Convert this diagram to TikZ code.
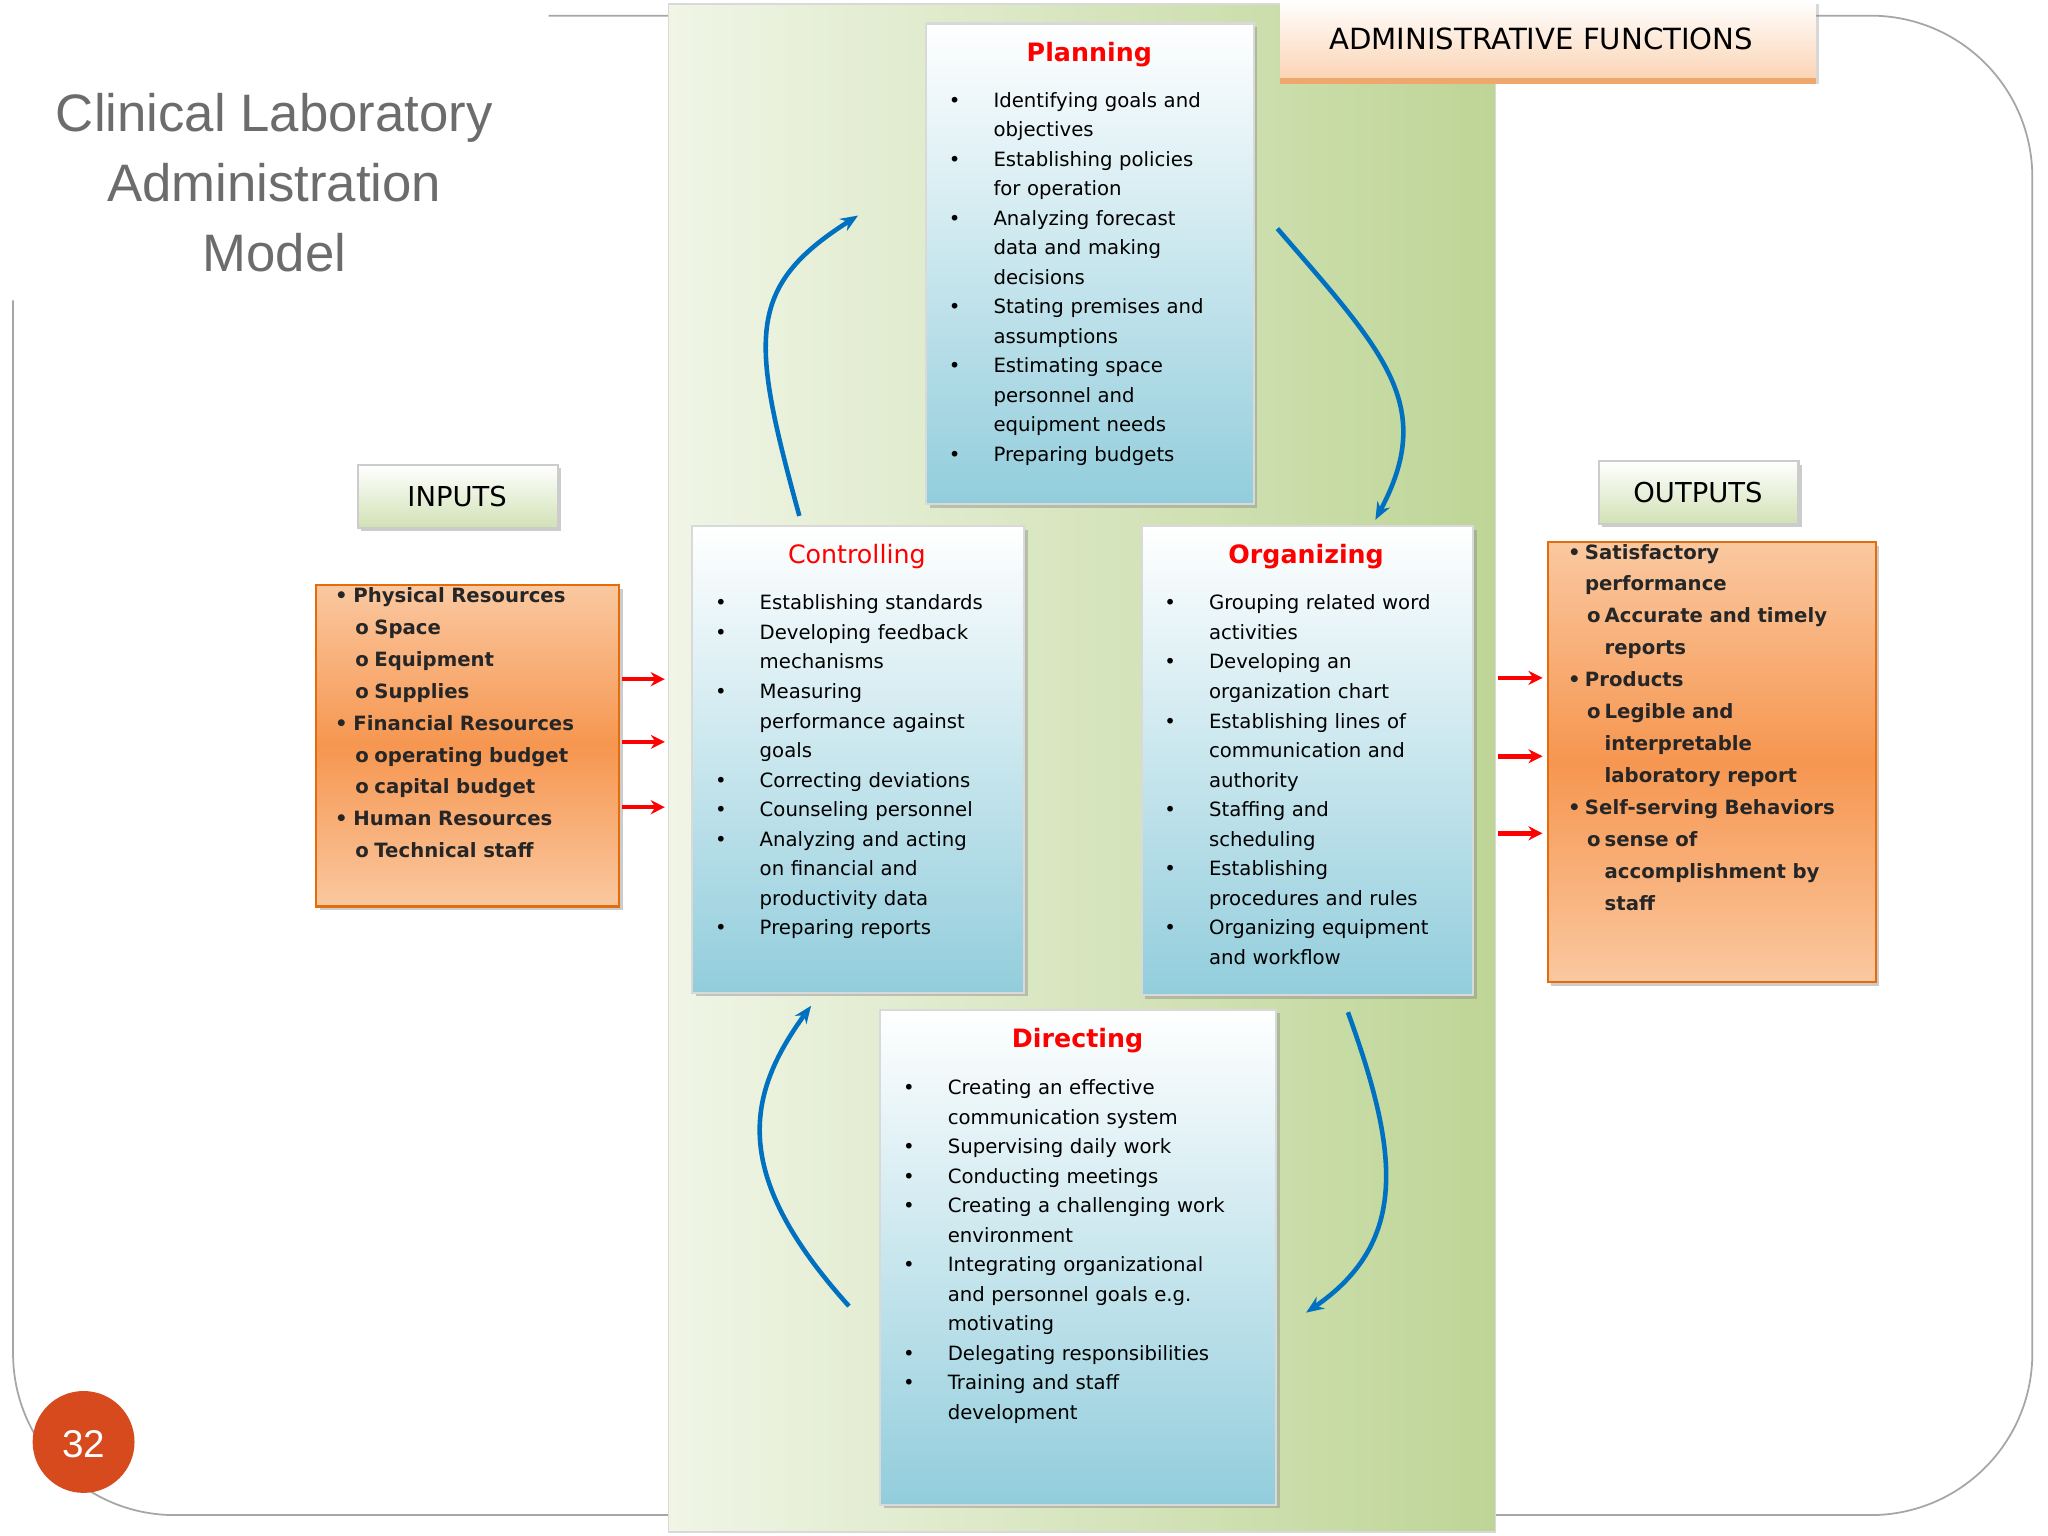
\documentclass[tikz,border=0pt]{standalone}
\usepackage{fontspec}
\setmainfont{DejaVu Sans}
\newfontfamily\titlefont{Liberation Sans}
\usetikzlibrary{arrows.meta,shadows}
\definecolor{pblue}{RGB}{146,205,220}
\definecolor{arrblue}{RGB}{0,112,192}
\definecolor{pgreenA}{RGB}{240,245,230}
\definecolor{pgreenB}{RGB}{190,213,150}
\definecolor{orA}{RGB}{250,200,160}
\definecolor{orB}{RGB}{246,150,80}
\definecolor{orLine}{RGB}{228,108,10}
\definecolor{circ}{RGB}{214,74,30}
\newcommand\bi[1]{\noindent\hangindent=19pt\hangafter=1\makebox[19pt][l]{\hspace{6.3pt}•}#1\par}
\newcommand\ob[1]{\noindent\hangindent=10.4pt\hangafter=1\makebox[10.4pt][l]{\hspace{5.2pt}•}#1\par}
\newcommand\oo[1]{\noindent\hangindent=16.4pt\hangafter=1\makebox[16.4pt][l]{\hspace{11pt}o}#1\par}
\newcommand\pb[1]{\noindent\hangindent=10.4pt\hangafter=1\makebox[10.4pt][l]{\hspace{5.6pt}•}#1\par}
\newcommand\po[1]{\noindent\hangindent=16pt\hangafter=1\makebox[16pt][l]{\hspace{11pt}o}#1\par}
\newcommand\nl{\newline}
\tikzset{
 pbox/.style={draw=white!70!gray, line width=0.6pt, left color=white, right color=pblue, shading angle=0, drop shadow={shadow xshift=1pt,shadow yshift=-1pt,opacity=0.4}},
 obox/.style={draw=orLine, line width=0.6pt, top color=orA, bottom color=orA, middle color=orB, drop shadow={shadow xshift=1pt,shadow yshift=-1pt,opacity=0.4}},
 gbox/.style={draw=gray!40, line width=0.6pt, top color=white, bottom color=pgreenB!70, drop shadow={shadow xshift=1pt,shadow yshift=-1pt,opacity=0.4}},
 ptitle/.style={font=\fontsize{7.2pt}{8pt}\selectfont\bfseries, text=red, anchor=north},
 plist/.style={anchor=north west, inner sep=0pt, text width=95pt, align=left, font=\fontsize{5.6pt}{8.4pt}\selectfont},
 olist/.style={anchor=north west, inner sep=0pt, text width=85pt, align=left, font=\fontsize{5.6pt}{9.1pt}\selectfont\bfseries, text=black!85},
 curv/.style={arrblue, line width=1.3pt, -{Stealth[length=5pt,width=4pt]}},
 redar/.style={red, line width=1.3pt, -{Stealth[length=4pt,width=4pt]}}
}
\begin{document}
\begin{tikzpicture}[x=0.01306cm,y=-0.01306cm]
\useasboundingbox (0,0) rectangle (1568,1176);
\fill[white] (0,0) rectangle (1568,1176);
% slide frame
\draw[gray!70, line width=0.5pt, rounded corners=46] (420,12) -- (1556,12) -- (1556,1160) -- (10,1160) -- (10,230);
\node[font=\titlefont\fontsize{15pt}{20pt}\selectfont, text=gray!85!black, align=center] (title) at (210,140) {Clinical Laboratory\\Administration\\Model};
\fill[circ] (64,1104) circle[radius=39];
\node[text=white, font=\titlefont\fontsize{11pt}{12pt}\selectfont] (num) at (64,1106) {32};
% panel
\shade[left color=pgreenA, right color=pgreenB, draw=gray!30] (512,3) rectangle (1145,1173);
\shade[top color=white, bottom color=orA!80, drop shadow={shadow xshift=1pt,shadow yshift=-1pt,opacity=0.3}] (980,0) rectangle (1390,62);
\draw[orLine!60, line width=1.5pt] (980,62) -- (1390,62);
\node[font=\fontsize{8.3pt}{9pt}\selectfont] (af) at (1180,30) {ADMINISTRATIVE FUNCTIONS};
% boxes
\path[pbox] (709,18) rectangle (960,386);
\path[pbox] (530,403) rectangle (784,760);
\path[pbox] (874,403) rectangle (1128,762);
\path[pbox] (674,773) rectangle (977,1152);
% planning
\node[ptitle] (pt) at (834,23) {Planning};
\node[plist] (pl) at (709,70) {\bi{Identifying goals and\nl objectives}\bi{Establishing policies\nl for operation}\bi{Analyzing forecast\nl data and making\nl decisions}\bi{Stating premises and\nl assumptions}\bi{Estimating space\nl personnel and\nl equipment needs}\bi{Preparing budgets}};
% controlling
\node[ptitle, font=\fontsize{7.2pt}{8pt}\selectfont] (ct) at (656,407) {Controlling};
\node[plist, text width=100pt] (cl) at (530,455) {\bi{Establishing standards}\bi{Developing feedback\nl mechanisms}\bi{Measuring\nl performance against\nl goals}\bi{Correcting deviations}\bi{Counseling personnel}\bi{Analyzing and acting\nl on financial and\nl productivity data}\bi{Preparing reports}};
% organizing
\node[ptitle] (ot) at (1000,407) {Organizing};
\node[plist, text width=100pt] (ol) at (874,455) {\bi{Grouping related word\nl activities}\bi{Developing an\nl organization chart}\bi{Establishing lines of\nl communication and\nl authority}\bi{Staffing and\nl scheduling}\bi{Establishing\nl procedures and rules}\bi{Organizing equipment\nl and workflow}};
% directing
\node[ptitle] (dt) at (825,778) {Directing};
\node[plist, text width=110pt] (dl) at (674,826) {\bi{Creating an effective\nl communication system}\bi{Supervising daily work}\bi{Conducting meetings}\bi{Creating a challenging work\nl environment}\bi{Integrating organizational\nl and personnel goals e.g.\nl motivating}\bi{Delegating responsibilities}\bi{Training and staff\nl development}};
% inputs / outputs labels
\path[gbox] (274,356) rectangle (427,404);
\node[font=\fontsize{7.8pt}{9pt}\selectfont] (inl) at (350,380) {INPUTS};
\path[gbox] (1224,353) rectangle (1377,401);
\node[font=\fontsize{7.8pt}{9pt}\selectfont] (outl) at (1300,377) {OUTPUTS};
\path[obox] (242,448) rectangle (474,694);
\node[olist] (inp) at (242,449) {\ob{Physical Resources}\oo{Space}\oo{Equipment}\oo{Supplies}\ob{Financial Resources}\oo{operating budget}\oo{capital budget}\ob{Human Resources}\oo{Technical staff}};
\path[obox] (1185,415) rectangle (1436,752);
\node[olist] (outp) at (1185,416) {\pb{Satisfactory\nl performance}\po{Accurate and timely\nl reports}\pb{Products}\po{Legible and\nl interpretable\nl laboratory report}\pb{Self-serving Behaviors}\po{sense of\nl accomplishment by\nl staff}};
% curved arrows
\coordinate (a1) at (612,395); \coordinate (a1e) at (657,165);
\coordinate (a2) at (978,175); \coordinate (a2e) at (1053,398);
\coordinate (a3) at (1032,775); \coordinate (a3e) at (1000,1005);
\coordinate (a4) at (650,1000); \coordinate (a4e) at (621,770);
\draw[curv] (a1) .. controls (575,260) and (570,220) .. (a1e);
\draw[curv] (a2) .. controls (1060,270) and (1100,310) .. (a2e);
\draw[curv] (a3) .. controls (1070,880) and (1080,950) .. (a3e);
\draw[curv] (a4) .. controls (560,900) and (570,840) .. (a4e);
% red arrows
\foreach \y [count=\i] in {520,568,618}{\coordinate (ri\i) at (476,\y); \coordinate (rie\i) at (509,\y); \draw[redar] (ri\i) -- (rie\i);}
\foreach \y [count=\i] in {519,579,638}{\coordinate (ro\i) at (1147,\y); \coordinate (roe\i) at (1181,\y); \draw[redar] (ro\i) -- (roe\i);}
\end{tikzpicture}
\end{document}
